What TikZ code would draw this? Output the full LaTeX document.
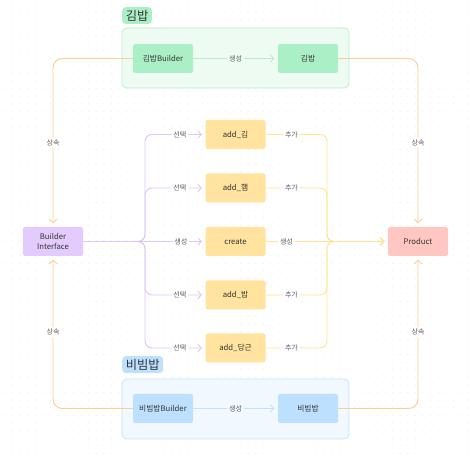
\documentclass[tikz,border=0pt]{standalone}
\usepackage{fontspec}
\setmainfont{Noto Sans CJK KR}
\usetikzlibrary{positioning, arrows.meta}

\definecolor{dotc}{HTML}{E0E0E0}
\definecolor{kgbg}{HTML}{EEFBF3}
\definecolor{kgline}{HTML}{B9EDCC}
\definecolor{kgbox}{HTML}{ABEFC6}
\definecolor{bbbg}{HTML}{F1F8FF}
\definecolor{bbline}{HTML}{C4E1FC}
\definecolor{bbbox}{HTML}{BDE0FE}
\definecolor{ifbox}{HTML}{E3CCFD}
\definecolor{ifline}{HTML}{DCC6F8}
\definecolor{stepbg}{HTML}{FFE39E}
\definecolor{stepline}{HTML}{FFE292}
\definecolor{prodbox}{HTML}{FFC6C2}
\definecolor{inhline}{HTML}{FBCF92}
\definecolor{txt}{HTML}{333333}

\begin{document}
\begin{tikzpicture}[x=0.03cm, y=-0.03cm,
    box/.style={rectangle, rounded corners=2pt, minimum width=1.8cm, minimum height=0.87cm,
                align=center, inner sep=1pt, text=txt, font=\fontsize{6.6}{8.6}\selectfont},
    group/.style={rectangle, rounded corners=4pt, minimum width=6.81cm, minimum height=1.8cm, draw, line width=0.6pt},
    grouptitle/.style={rectangle, rounded corners=3pt, anchor=north west, inner xsep=3pt, inner ysep=1pt,
                       minimum height=0.5cm, text=txt, font=\fontsize{10.5}{12}\selectfont},
    lbl/.style={fill=white, inner sep=1.5pt, text=txt!80, font=\fontsize{6}{7}\selectfont},
    tip/.style={-{Straight Barb[length=2.8pt, width=6.5pt]}, shorten >=3pt},
    ifarrow/.style={draw=ifline, line width=0.8pt, rounded corners=6pt, tip},
    steparrow/.style={draw=stepline, line width=0.8pt, rounded corners=6pt, tip},
    inharrow/.style={draw=inhline, line width=0.8pt, rounded corners=8pt, tip},
  ]

        \useasboundingbox (0,0) rectangle (474,460);

        % Dot grid
        \foreach \i in {0,...,61}
            \foreach \j in {0,...,59}
                \fill[dotc] (5+7.6*\i, 5+7.6*\j) circle (0.35pt);

        % Groups
        \node (KG) [group, draw=kgline, fill=kgbg] at (235.5,58) {};
        \node (KGT) [grouptitle, fill=kgbox] at (122,7) {김밥};
        \node (BG) [group, draw=bbline, fill=bbbg] at (235.5,409) {};
        \node (BGT) [grouptitle, fill=bbbox] at (122,356) {비빔밥};

        % Nodes
        \node (KB) [box, fill=kgbox] at (163,58.5) {김밥Builder};
        \node (K) [box, fill=kgbox] at (308,58.5) {김밥};
        \node (BB) [box, fill=bbbox] at (163,408.5) {비빔밥Builder};
        \node (B) [box, fill=bbbox] at (308,408.5) {비빔밥};

        \node (BI) [box, fill=ifbox] at (53,241.5) {Builder\\Interface};
        \node (P) [box, fill=prodbox] at (418,241.5) {Product};

        \node (S1) [box, fill=stepbg] at (235.5,134.5) {add\_김};
        \node (S2) [box, fill=stepbg] at (235.5,188) {add\_햄};
        \node (C)  [box, fill=stepbg] at (235.5,241.5) {create};
        \node (S3) [box, fill=stepbg] at (235.5,295) {add\_밥};
        \node (S4) [box, fill=stepbg] at (235.5,348) {add\_당근};

        \coordinate (IFJ) at (145,241.5);
        \coordinate (PJ) at (327,241.5);

        % Arrows
        \draw[draw=kgline, line width=0.8pt, tip] (KB.east) -- node[lbl, fill=kgbg] {생성} (K.west);
        \draw[draw=bbline, line width=0.8pt, tip] (BB.east) -- node[lbl, fill=bbbg] {생성} (B.west);

        \draw[inharrow] (KB.west) -| node[lbl, pos=0.75] {상속} (BI.north);
        \draw[inharrow] (K.east) -| node[lbl, pos=0.75] {상속} (P.north);
        \draw[inharrow] (BB.west) -| node[lbl, pos=0.75] {상속} (BI.south);
        \draw[inharrow] (B.east) -| node[lbl, pos=0.75] {상속} (P.south);

        \foreach \s in {S1, S2, S3, S4} {
            \draw[ifarrow] (BI.east) -- (IFJ) |- node[lbl, pos=0.79] {선택} (\s.west);
            \draw[steparrow] (\s.east) -| node[lbl, pos=0.21] {추가} (PJ) -- (P.west);
        }
        \draw[ifarrow] (BI.east) -- node[lbl, pos=0.8] {생성} (C.west);
        \draw[steparrow] (C.east) -- node[lbl, pos=0.17] {생성} (P.west);

    \end{tikzpicture}
\end{document}
